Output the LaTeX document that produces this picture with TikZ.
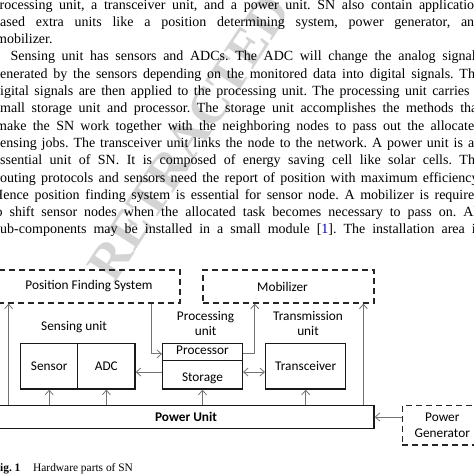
\documentclass[tikz,border=0pt]{standalone}
\usepackage{fontspec}
\setmainfont{Liberation Serif}
\newfontfamily\diagfont{Carlito}
\usetikzlibrary{arrows.meta}
\frenchspacing
\begin{document}
\begin{tikzpicture}[x=1pt,y=1pt,
  body/.style={inner sep=0pt, anchor=base west, font=\fontsize{14}{17}\selectfont},
  capt/.style={inner sep=0pt, anchor=base west, font=\fontsize{11.4}{13}\selectfont},
  dfont/.style={font=\diagfont\fontsize{13.3}{15.6}\selectfont},
  solidbox/.style={draw=black!90, line width=1.4pt, inner sep=0pt, dfont, text height=8.6pt, text depth=0pt},
  dashbox/.style={draw=black!85, line width=1.4pt, dash pattern=on 6pt off 4pt, inner sep=0pt, dfont, align=center},
  lbl/.style={inner sep=0pt, dfont, align=center},
  tip/.tip={Straight Barb[length=4.5pt,width=8pt]},
  arr/.style={draw=black!55, line width=0.8pt, -tip},
  darr/.style={draw=black!55, line width=0.8pt, tip-tip},
]
\useasboundingbox (0,0) rectangle (474,474);
\fill[white] (0,0) rectangle (474,474);
\clip (0,0) rectangle (474,474);

% watermark
\node[rotate=57, text=black!17, inner sep=0pt, font=\bfseries\fontsize{52}{52}\selectfont] (wm) at (189,336) {RETRACTED};

% body text
\node[body] (l1) at (-7.5,464.9) {\makebox[488.5pt][s]{processing unit, a transceiver unit, and a power unit. SN also contain application}};
\node[body] (l2) at (-7,447.6) {\makebox[488pt][s]{based extra units like a position determining system, power generator, and}};
\node[body] (l3) at (-4,430.3) {mobilizer.};
\node[body] (l4) at (10.5,413.0) {\makebox[470.5pt][s]{Sensing unit has sensors and ADCs. The ADC will change the analog signals}};
\node[body] (l5) at (-7,395.7) {\makebox[488pt][s]{generated by the sensors depending on the monitored data into digital signals. The}};
\node[body] (l6) at (-7,378.4) {\makebox[488pt][s]{digital signals are then applied to the processing unit. The processing unit carries a}};
\node[body] (l7) at (-5.4,361.1) {\makebox[486.4pt][s]{small storage unit and processor. The storage unit accomplishes the methods that}};
\node[body] (l8) at (-4,343.8) {\makebox[485pt][s]{make the SN work together with the neighboring nodes to pass out the allocated}};
\node[body] (l9) at (-5.4,326.5) {\makebox[486.4pt][s]{sensing jobs. The transceiver unit links the node to the network. A power unit is an}};
\node[body] (l10) at (-6.2,309.2) {\makebox[487.2pt][s]{essential unit of SN. It is composed of energy saving cell like solar cells. The}};
\node[body] (l11) at (-4.7,291.9) {\makebox[485.7pt][s]{routing protocols and sensors need the report of position with maximum efficiency.}};
\node[body] (l12) at (-7,274.6) {\makebox[488pt][s]{Hence position finding system is essential for sensor node. A mobilizer is required}};
\node[body] (l13) at (-8.5,257.3) {\makebox[489.5pt][s]{to shift sensor nodes when the allocated task becomes necessary to pass on. All}};
\node[body] (l14) at (-5.4,240.0) {\makebox[486.4pt][s]{sub-components may be installed in a small module [\textcolor{blue!70!black}{1}]. The installation area is}};

% diagram
\node[dashbox, minimum width=182pt, minimum height=33pt] (pfs) at (89,187.5) {Position Finding System};
\node[dashbox, minimum width=171pt, minimum height=33pt] (mob) at (288.5,187.5) {\hspace*{-12pt}Mobilizer};

\node[lbl] (senslbl) at (74,147.3) {Sensing unit};
\node[lbl] (proclbl) at (205.6,150.7) {Processing\\unit};
\node[lbl] (txlbl) at (308,150.7) {Transmission\\unit};

\node[solidbox, minimum width=57pt, minimum height=45.7pt] (sensor) at (49.2,107.85) {Sensor};
\node[solidbox, minimum width=57.3pt, minimum height=45.7pt] (adc) at (106.35,107.85) {ADC};
\node[solidbox, minimum width=79.6pt, minimum height=17.2pt, text depth=3.6pt] (proc) at (202.5,122.1) {Processor};
\node[solidbox, minimum width=79.6pt, minimum height=28.5pt, text height=13pt] (store) at (202.5,99.25) {Storage};
\node[solidbox, minimum width=80pt, minimum height=45.7pt] (tx) at (305.7,107.85) {Transceiver};
\node[solidbox, minimum width=376pt, minimum height=22.6pt, font=\diagfont\bfseries\fontsize{13.3}{15.6}\selectfont] (pu) at (186,57) {Power Unit};
\node[dashbox, minimum width=80pt, minimum height=39.3pt] (pg) at (442.3,48.65) {Power\\Generator};

% connectors
\coordinate (c1) at ([xshift=11.3pt]pu.north west);
\draw[arr] (c1) -- (c1 |- pfs.south);
\draw[arr] (sensor.south |- pu.north) -- (sensor.south);
\draw[arr] (adc.south |- pu.north) -- (adc.south);
\draw[arr] (store.south |- pu.north) -- (store.south);
\draw[arr] (tx.south |- pu.north) -- (tx.south);
\coordinate (c6) at ([xshift=-11.3pt]pu.north east);
\draw[arr] (c6) -- (c6 |- mob.south);
\coordinate (c7) at ([xshift=-11pt,yshift=-2pt]proc.west);
\draw[arr] (c7 |- pfs.south) -- (c7) -- ([yshift=-2pt]proc.west);
\coordinate (c8) at ([xshift=11.7pt,yshift=-2pt]proc.east);
\draw[arr] ([yshift=-2pt]proc.east) -- (c8) -- (c8 |- mob.south);
\coordinate (c9) at ([yshift=2.7pt]store.west);
\draw[arr] (c9) -- (c9 -| adc.east);
\coordinate (c10) at ([yshift=2.7pt]store.east);
\draw[darr] (c10) -- (c10 -| tx.west);
\draw[arr] (pg.west |- pu.east) -- (pu.east);

% caption
\node[capt, font=\bfseries\fontsize{11.4}{13}\selectfont] (figno) at (-7,2.2) {Fig. 1};
\node[capt] (captxt) at (33,2.2) {Hardware parts of SN};
\end{tikzpicture}
\end{document}
